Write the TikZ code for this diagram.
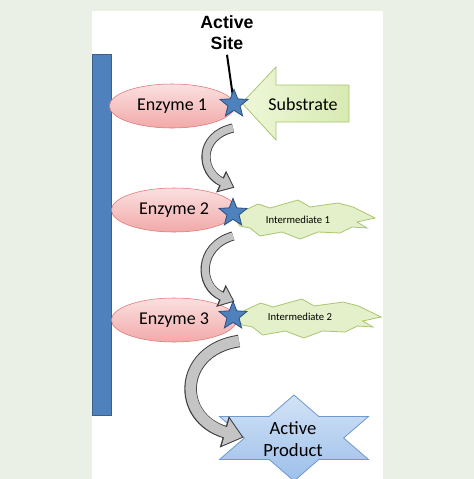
\documentclass[tikz,border=0pt]{standalone}
\usepackage{fontspec}
\setmainfont{Carlito}
\newfontfamily\headfont{Liberation Sans}
\usetikzlibrary{shapes.geometric,arrows.meta}

\definecolor{pagegreen}{HTML}{EAF0E5}
\definecolor{barblue}{HTML}{4F81BD}
\definecolor{barline}{HTML}{3A5F8C}
\definecolor{siteline}{HTML}{2A4F80}
\definecolor{enztop}{HTML}{FBE0E0}
\definecolor{enzbot}{HTML}{F2A9A9}
\definecolor{enzline}{HTML}{DD7472}
\definecolor{subleft}{HTML}{EEF7D8}
\definecolor{subright}{HTML}{D8EAB3}
\definecolor{subline}{HTML}{A9C66E}
\definecolor{turngray}{HTML}{C4C4C4}
\definecolor{turnline}{HTML}{3C3C3C}
\definecolor{prodtop}{HTML}{D3E3F6}
\definecolor{prodbot}{HTML}{9CBFEA}
\definecolor{prodline}{HTML}{6F98CF}

\tikzset{
  enzyme/.style={ellipse, draw=enzline, top color=enztop, bottom color=enzbot,
    minimum width=94pt, minimum height=33pt, inner sep=0pt,
    font=\fontsize{13.5}{16}\selectfont},
  activesite/.style={star, star points=5, star point ratio=2.3, minimum size=22pt,
    inner sep=0pt, fill=barblue, draw=siteline, line width=0.6pt},
  turn/.style={draw=turngray, line width=#1,
    -{Triangle[length=0pt 1.6, width=0pt 2.5]},
    preaction={draw=turnline, line width=#1+1.4pt, shorten >=-1.2pt,
      -{Triangle[length=0pt 1.6, width=0pt 2.5]}}},
  pics/burst/.style={code={
    \draw[draw=subline, fill=subright!70!white, line width=0.6pt]
      (-70,-2) -- (-45,-14) -- (-33,-10) -- (-5,-18) -- (7,-11) -- (35,-15)
      -- (50,-11) -- (72,0) -- (54,4) -- (64,10) -- (49,9) -- (37,15)
      -- (15,14) -- (-3,21) -- (-21,14) -- (-43,18) -- (-53,10) -- (-63,8)
      -- cycle;}}
}

\begin{document}
\begin{tikzpicture}[x=0.75pt, y=-0.75pt]
  \useasboundingbox (0,0) rectangle (474,479);
  \clip (0,0) rectangle (474,479);
  \fill[pagegreen] (0,0) rectangle (474,479);
  \fill[white] (92,11) rectangle (383,479);

  % support bar
  \draw[fill=barblue, draw=barline, line width=0.6pt] (92,54) rectangle (111,415);

  % substrate and intermediates
  \draw[draw=subline, left color=subleft, right color=subright, line width=0.6pt]
    (242,103) -- (276,67) -- (276,85) -- (349,85) -- (349,122) -- (276,122)
    -- (276,140) -- cycle;
  \node[font=\fontsize{13.5}{16}\selectfont] (substrate) at (303,104) {Substrate};
  \pic at (303,218) {burst};
  \node[font=\fontsize{8}{10}\selectfont] (inter1) at (298,220) {Intermediate 1};
  \pic[xscale=1.03] at (307,317) {burst};
  \node[font=\fontsize{8}{10}\selectfont] (inter2) at (300,317) {Intermediate 2};

  % enzymes
  \node[enzyme] (e1) at (172,106) {Enzyme 1};
  \node[enzyme] (e2) at (174,210) {Enzyme 2};
  \node[enzyme] (e3) at (174,320) {Enzyme 3};

  % active sites
  \node[font=\headfont\bfseries\fontsize{13.3}{15.8}\selectfont, align=center]
    (site) at (227,33) {Active\\Site};
  \coordinate (c1) at (234,104);
  \coordinate (c2) at (233,213);
  \coordinate (c3) at (233,316);
  \draw[line width=1.5pt] (site.south) -- (c1);
  \node[activesite] (s1) at (c1) {};
  \node[activesite] (s2) at (c2) {};
  \node[activesite] (s3) at (c3) {};

  % product
  \draw[draw=prodline, top color=prodtop, bottom color=prodbot, line width=0.6pt,
    shift={(294,438)}]
    (0,-43) -- (24.8,-21.5) -- (74.5,-21.5) -- (49.6,0) -- (74.5,21.5)
    -- (24.8,21.5) -- (0,43) -- (-24.8,21.5) -- (-74.5,21.5) -- (-49.6,0)
    -- (-74.5,-21.5) -- (-24.8,-21.5) -- cycle;
  \node[font=\fontsize{14}{16.5}\selectfont, align=center] (product) at (293,439)
    {Active\\Product};

  % reaction steps
  \coordinate (t1) at (233,128);
  \coordinate (h1) at (233,187);
  \coordinate (t2) at (233,236);
  \coordinate (h2) at (233,301);
  \coordinate (t3) at (239,341);
  \coordinate (h3) at (242,437);
  \draw[turn=5.5pt] (t1) .. controls (198,136) and (200,172) .. (h1);
  \draw[turn=5.5pt] (t2) .. controls (198,246) and (198,286) .. (h2);
  \draw[turn=8pt] (t3) .. controls (178,350) and (176,418) .. (h3);
\end{tikzpicture}
\end{document}
